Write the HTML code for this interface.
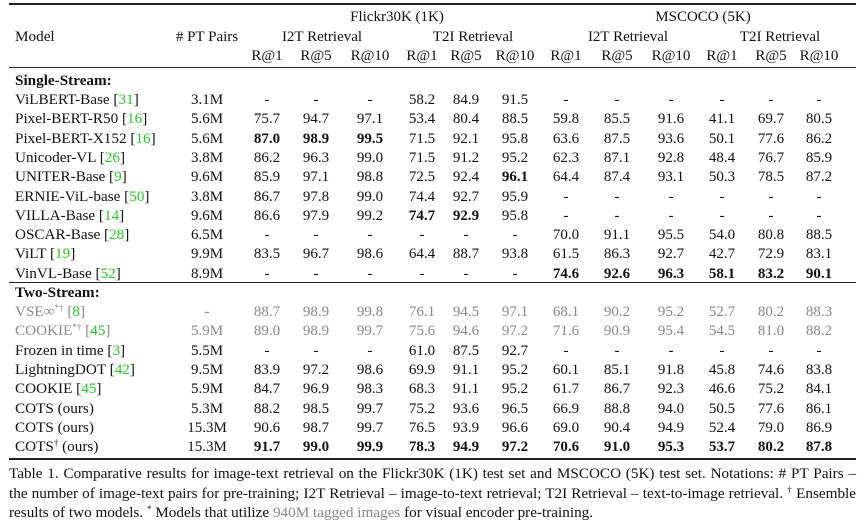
<!DOCTYPE html>
<html><head><meta charset="utf-8">
<style>
body{margin:0;width:865px;height:522px;background:#fff;overflow:hidden;font-family:"Liberation Serif",serif;color:#111;}
#t{position:absolute;left:0;top:0;width:865px;height:522px;}
.c{position:absolute;font-size:15px;line-height:18px;white-space:nowrap;transform:translateX(-50%);}
.l{position:absolute;font-size:15.2px;line-height:18px;white-space:nowrap;}
.rule{position:absolute;left:9px;width:847px;background:#222;}
.ref{color:#22cc22;}
.g{color:#888;}
sup{vertical-align:baseline;position:relative;top:-0.55em;line-height:0;font-size:9px;}
#cap{position:absolute;left:9px;top:464px;width:847px;font-size:15.2px;line-height:19.5px;color:#111;}
.jl{white-space:nowrap;text-align:justify;text-align-last:justify;}
</style></head><body>
<div id="t">
<div class="rule" style="top:3px;height:2px"></div>
<div class="rule" style="top:67px;height:1px"></div>
<div class="rule" style="top:282px;height:1px"></div>
<div class="rule" style="top:458px;height:2px"></div>
<div class="c" style="left:397px;top:8px">Flickr30K (1K)</div>
<div class="c" style="left:703px;top:8px">MSCOCO (5K)</div>
<div class="l" style="left:15px;top:28px">Model</div>
<div class="c" style="left:207px;top:28px"># PT Pairs</div>
<div class="c" style="left:322px;top:28px">I2T Retrieval</div>
<div class="c" style="left:473px;top:28px">T2I Retrieval</div>
<div class="c" style="left:628px;top:28px">I2T Retrieval</div>
<div class="c" style="left:780px;top:28px">T2I Retrieval</div>
<div class="l" style="left:15px;top:72px;font-weight:bold">Single-Stream:</div>
<div class="l" style="left:15px;top:284px;font-weight:bold">Two-Stream:</div>
</div>
<div id="cap">
<div class="jl">Table 1. Comparative results for image-text retrieval on the Flickr30K (1K) test set and MSCOCO (5K) test set. Notations: # PT Pairs –</div>
<div class="jl">the number of image-text pairs for pre-training; I2T Retrieval – image-to-text retrieval; T2I Retrieval – text-to-image retrieval. <sup>†</sup> Ensemble</div>
<div style="white-space:nowrap">results of two models. <sup>*</sup> Models that utilize <span class="g">940M tagged images</span> for visual encoder pre-training.</div>
</div>
<script>
const metricLabels=["R@1","R@5","R@10","R@1","R@5","R@10","R@1","R@5","R@10","R@1","R@5","R@10"];
const singleModels=["ViLBERT-Base [31]","Pixel-BERT-R50 [16]","Pixel-BERT-X152 [16]","Unicoder-VL [26]","UNITER-Base [9]","ERNIE-ViL-base [50]","VILLA-Base [14]","OSCAR-Base [28]","ViLT [19]","VinVL-Base [52]"];
const singlePairs=["3.1M","5.6M","5.6M","3.8M","9.6M","3.8M","9.6M","6.5M","9.9M","8.9M"];
const singleValues=[
["-","-","-","58.2","84.9","91.5","-","-","-","-","-","-"],
["75.7","94.7","97.1","53.4","80.4","88.5","59.8","85.5","91.6","41.1","69.7","80.5"],
["*87.0","*98.9","*99.5","71.5","92.1","95.8","63.6","87.5","93.6","50.1","77.6","86.2"],
["86.2","96.3","99.0","71.5","91.2","95.2","62.3","87.1","92.8","48.4","76.7","85.9"],
["85.9","97.1","98.8","72.5","92.4","*96.1","64.4","87.4","93.1","50.3","78.5","87.2"],
["86.7","97.8","99.0","74.4","92.7","95.9","-","-","-","-","-","-"],
["86.6","97.9","99.2","*74.7","*92.9","95.8","-","-","-","-","-","-"],
["-","-","-","-","-","-","70.0","91.1","95.5","54.0","80.8","88.5"],
["83.5","96.7","98.6","64.4","88.7","93.8","61.5","86.3","92.7","42.7","72.9","83.1"],
["-","-","-","-","-","-","*74.6","*92.6","*96.3","*58.1","*83.2","*90.1"]];
const twoModels=["VSE∞*† [8]","COOKIE*† [45]","Frozen in time [3]","LightningDOT [42]","COOKIE [45]","COTS (ours)","COTS (ours)","COTS† (ours)"];
const twoPairs=["-","5.9M","5.5M","9.5M","5.9M","5.3M","15.3M","15.3M"];
const twoGray=[true,true,false,false,false,false,false,false];
const twoValues=[
["88.7","98.9","99.8","76.1","94.5","97.1","68.1","90.2","95.2","52.7","80.2","88.3"],
["89.0","98.9","99.7","75.6","94.6","97.2","71.6","90.9","95.4","54.5","81.0","88.2"],
["-","-","-","61.0","87.5","92.7","-","-","-","-","-","-"],
["83.9","97.2","98.6","69.9","91.1","95.2","60.1","85.1","91.8","45.8","74.6","83.8"],
["84.7","96.9","98.3","68.3","91.1","95.2","61.7","86.7","92.3","46.6","75.2","84.1"],
["88.2","98.5","99.7","75.2","93.6","96.5","66.9","88.8","94.0","50.5","77.6","86.1"],
["90.6","98.7","99.7","76.5","93.9","96.6","69.0","90.4","94.9","52.4","79.0","86.9"],
["*91.7","*99.0","*99.9","*78.3","*94.9","*97.2","*70.6","*91.0","*95.3","*53.7","*80.2","*87.8"]];
const colX=[267,316,370,422,466,515,566,617,671,722,771,819];
const t=document.getElementById('t');
function fmtName(s){
  return s.replace(/\[(\d+)\]/,'[<span class="ref">$1</span>]').replace(/([*†]+)/,'<sup>$1</sup>');
}
metricLabels.forEach((m,i)=>{
  const d=document.createElement('div');d.className='c';d.style.left=colX[i]+'px';d.style.top='47px';d.textContent=m;
  
  
  t.appendChild(d);
});
function addRows(models,pairs,vals,top0,gray){
  models.forEach((m,r)=>{
    const y=top0+r*19.3;
    const g=gray&&gray[r];
    const n=document.createElement('div');n.className='l'+(g?' g':'');n.style.left='15px';n.style.top=y+'px';n.innerHTML=fmtName(m);
    
    
    t.appendChild(n);
    const p=document.createElement('div');p.className='c'+(g?' g':'');p.style.left='207px';p.style.top=y+'px';p.textContent=pairs[r];
    
    
    t.appendChild(p);
    vals[r].forEach((v,i)=>{
      const c=document.createElement('div');c.className='c'+(g?' g':'');c.style.left=colX[i]+'px';c.style.top=y+'px';
      if(v[0]==='*'){c.style.fontWeight='bold';v=v.slice(1);}
      c.textContent=v;
      
      
      t.appendChild(c);
    });
  });
}
addRows(singleModels,singlePairs,singleValues,91,null);
addRows(twoModels,twoPairs,twoValues,303,twoGray);
</script>
</body></html>
